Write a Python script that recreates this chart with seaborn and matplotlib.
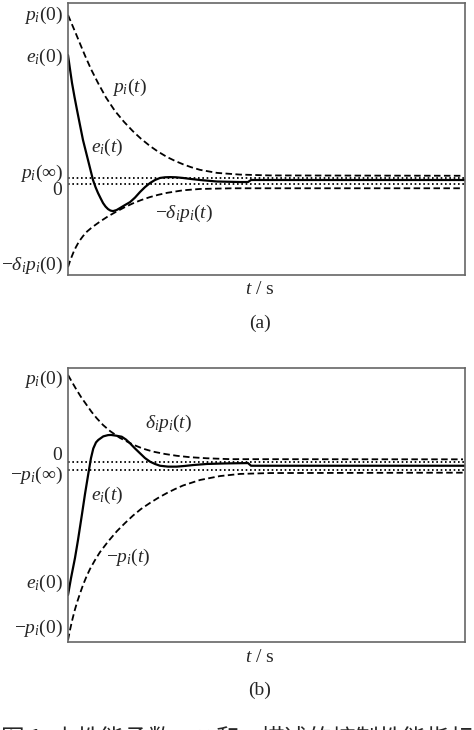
import matplotlib
matplotlib.use("Agg")
import matplotlib.pyplot as plt
import seaborn as sns

# ---------- panel (a): values ----------
t_a_p = [0, 0.101, 0.202, 0.302, 0.428, 0.579, 0.756, 0.957, 1.184, 1.411, 1.637, 1.839,
         2.065, 2.267, 2.494, 2.695, 2.897, 3.098, 3.325, 3.753, 4.332, 5.088, 9.95]
p_a = [1.0, 0.944, 0.888, 0.831, 0.760, 0.680, 0.598, 0.512, 0.432, 0.368, 0.312, 0.268,
       0.225, 0.192, 0.160, 0.137, 0.117, 0.100, 0.084, 0.066, 0.056, 0.051, 0.049]

t_a_low = [0, 0.050, 0.101, 0.151, 0.202, 0.277, 0.378, 0.479, 0.605, 0.806, 1.008, 1.227,
           1.436, 1.637, 1.839, 2.065, 2.267, 2.494, 2.897, 3.325, 4.156, 9.95]
dp_a = [-0.491, -0.456, -0.425, -0.396, -0.372, -0.340, -0.308, -0.281, -0.256, -0.222,
        -0.191, -0.162, -0.136, -0.114, -0.095, -0.077, -0.064, -0.052, -0.037, -0.029,
        -0.025, -0.025]

t_a_e = [0, 0.050, 0.101, 0.164, 0.227, 0.302, 0.378, 0.441, 0.504, 0.567, 0.630, 0.693,
         0.756, 0.819, 0.882, 0.945, 1.008, 1.071, 1.134, 1.222, 1.310, 1.436, 1.562, 1.688,
         1.814, 1.940, 2.065, 2.191, 2.317, 2.443, 2.569, 2.720, 2.897, 3.098, 3.325, 3.753,
         4.332, 4.534, 4.610, 10.0]
e_a = [0.763, 0.680, 0.598, 0.515, 0.438, 0.349, 0.260, 0.201, 0.142, 0.083, 0.024, -0.018,
       -0.053, -0.083, -0.112, -0.133, -0.148, -0.157, -0.160, -0.154, -0.142, -0.124,
       -0.107, -0.080, -0.047, -0.018, 0.006, 0.024, 0.036, 0.040, 0.041, 0.040, 0.036,
       0.030, 0.024, 0.015, 0.012, 0.012, 0.024, 0.024]

pinf_a = 0.037
zero_a = 0.0

# ---------- panel (b) ----------
t_b_up = [0, 0.101, 0.219, 0.340, 0.471, 0.592, 0.723, 0.882, 1.058, 1.310, 1.645, 1.889,
          2.149, 2.443, 2.738, 3.073, 3.494, 4.081, 9.95]
dp_b = [0.489, 0.449, 0.404, 0.361, 0.320, 0.282, 0.246, 0.208, 0.174, 0.135, 0.097, 0.075,
        0.058, 0.045, 0.035, 0.027, 0.021, 0.016, 0.015]

t_b_low = [0, 0.050, 0.101, 0.164, 0.227, 0.302, 0.378, 0.466, 0.554, 0.680, 0.806, 1.008,
           1.234, 1.436, 1.637, 1.839, 2.065, 2.267, 2.494, 2.695, 2.897, 3.325, 3.829,
           4.332, 5.088, 9.95]
p_b = [-1.0, -0.944, -0.893, -0.837, -0.789, -0.739, -0.691, -0.643, -0.601, -0.551,
       -0.506, -0.447, -0.388, -0.343, -0.301, -0.264, -0.230, -0.202, -0.174, -0.152,
       -0.132, -0.101, -0.079, -0.067, -0.062, -0.060]

t_b_e = [0, 0.076, 0.176, 0.252, 0.353, 0.428, 0.511, 0.579, 0.637, 0.705, 0.763, 0.889,
         1.008, 1.083, 1.209, 1.353, 1.461, 1.562, 1.688, 1.814, 1.940, 2.065, 2.191, 2.317,
         2.519, 2.738, 2.947, 3.156, 3.494, 3.955, 4.534, 4.610, 10.0]
e_b = [-0.747, -0.652, -0.539, -0.438, -0.292, -0.180, -0.067, 0.022, 0.076, 0.110, 0.124,
       0.144, 0.151, 0.152, 0.148, 0.142, 0.126, 0.105, 0.076, 0.049, 0.022, 0.002, -0.011,
       -0.021, -0.026, -0.026, -0.022, -0.017, -0.011, -0.008, -0.006, -0.021, -0.021]

pinf_b = -0.045
zero_b = 0.0

# text
ylabels_a = [r'$p_i(0)$', r'$e_i(0)$', r'$p_i(\infty)$', r'$0$', r'$-\delta_i p_i(0)$']
ylabels_b = [r'$p_i(0)$', r'$0$', r'$-p_i(\infty)$', r'$e_i(0)$', r'$-p_i(0)$']
curve_labels_a = [r'$p_i(t)$', r'$e_i(t)$', r'$-\delta_i p_i(t)$']
curve_labels_b = [r'$\delta_i p_i(t)$', r'$e_i(t)$', r'$-p_i(t)$']
xlabel = r'$t$ / s'
caption = '图 1  由性能函数 $p_i(t)$和$\\delta_i$ 描述的控制性能指标'

# ---------- style ----------
sns.set_theme(style="white")
plt.rcParams['font.family'] = ['Liberation Serif', 'DejaVu Serif']
plt.rcParams['mathtext.fontset'] = 'custom'
plt.rcParams['mathtext.rm'] = 'Liberation Serif'
plt.rcParams['mathtext.it'] = 'Liberation Serif:italic'

FS = 14
DASH = (0, (3.6, 1.9))
DOT = (0, (0.9, 1.5))

fig = plt.figure(figsize=(4.74, 7.30), dpi=100)
ax_a = fig.add_axes([68 / 474, 1 - 275 / 730, 397 / 474, 272 / 730])
ax_b = fig.add_axes([68 / 474, 1 - 642 / 730, 397 / 474, 274 / 730])


def draw_panel(ax, curves, hlines, ylim):
    for t, v, ls, lw in curves:
        sns.lineplot(x=t, y=v, ax=ax, color='black', lw=lw, linestyle=ls,
                     estimator=None, sort=False)
    for h in hlines:
        ax.axhline(h, color='black', lw=1.3, linestyle=DOT)
    ax.set_xlim(0, 10)
    ax.set_ylim(*ylim)
    ax.set_xticks([])
    ax.set_yticks([])
    ax.set_xlabel('')
    ax.set_ylabel('')
    for s in ax.spines.values():
        s.set_color('#666666')
        s.set_linewidth(1.2)


draw_panel(ax_a,
           [(t_a_p, p_a, DASH, 1.3), (t_a_low, dp_a, DASH, 1.3), (t_a_e, e_a, '-', 1.6)],
           [pinf_a, zero_a], (-0.538, 1.071))
draw_panel(ax_b,
           [(t_b_up, dp_b, DASH, 1.3), (t_b_low, p_b, DASH, 1.3), (t_b_e, e_b, '-', 1.6)],
           [zero_b, pinf_b], (-1.011, 0.528))

# y-side labels
ypos_a = [1.0, 0.751, 0.065, -0.041, -0.479]
ypos_b = [0.461, 0.034, -0.073, -0.680, -0.933]
for ax, labs, ys in [(ax_a, ylabels_a, ypos_a), (ax_b, ylabels_b, ypos_b)]:
    for lab, y in zip(labs, ys):
        ax.text(-0.012, y, lab, transform=ax.get_yaxis_transform(),
                ha='right', va='center', fontsize=FS)

# curve labels
cpos_a = [(1.55, 0.574), (0.98, 0.219), (2.91, -0.172)]
cpos_b = [(2.52, 0.219), (0.98, -0.185), (1.51, -0.534)]
for ax, labs, ps in [(ax_a, curve_labels_a, cpos_a), (ax_b, curve_labels_b, cpos_b)]:
    for lab, (x, y) in zip(labs, ps):
        ax.text(x, y, lab, ha='center', va='center', fontsize=FS)

# axis titles and panel tags
fig.text(260 / 474, 1 - 290 / 730, xlabel, ha='center', va='center', fontsize=FS)
fig.text(260 / 474, 1 - 323 / 730, '(a)', ha='center', va='center', fontsize=FS)
fig.text(260 / 474, 1 - 658 / 730, xlabel, ha='center', va='center', fontsize=FS)
fig.text(260 / 474, 1 - 690 / 730, '(b)', ha='center', va='center', fontsize=FS)

fig.text(0.0, 1 - 724 / 730, caption, ha='left', va='top', fontsize=17,
         family=['Noto Sans CJK SC', 'DejaVu Sans'])

fig.savefig('out.png', dpi=100)
